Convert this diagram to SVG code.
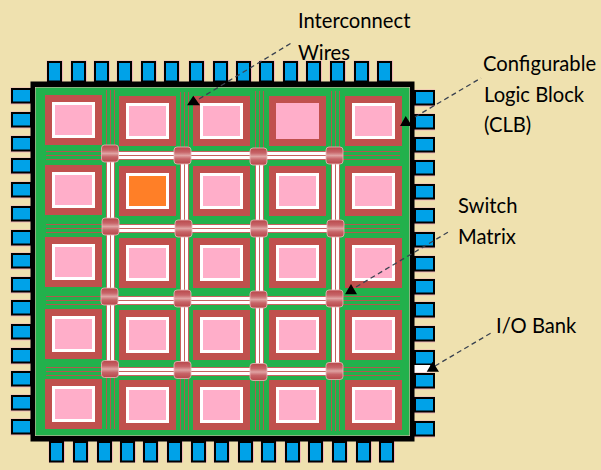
<svg xmlns="http://www.w3.org/2000/svg" xmlns:xlink="http://www.w3.org/1999/xlink" width="601" height="470" viewBox="0 0 601 470">
<style>
.lbl{font-family:"Lato","Liberation Sans",sans-serif;font-size:20.2px;fill:#000}
.wire{fill:none;stroke:#c0504d;stroke-width:.9}
.chan{fill:none;stroke:#fff;stroke-width:9}
.lead{fill:none;stroke:#3a4250;stroke-width:1.3;stroke-dasharray:5 3.5}
.tip{fill:#000}
.blk{fill:#c0504d}.ring{fill:#fff}.core{fill:#ffaec9}.hot{fill:#ff7f27}
</style>
<defs>
<linearGradient id="sw" x1="0" y1="0" x2="0" y2="1">
<stop offset="0" stop-color="#b8474a"/><stop offset=".3" stop-color="#c76468"/><stop offset=".5" stop-color="#e0a3a3"/><stop offset=".7" stop-color="#c76468"/><stop offset="1" stop-color="#b8474a"/>
</linearGradient>
<g id="pv"><rect x="-.5" y="-.5" width="16.500" height="22" fill="#f2b5b5"/><rect x="1" y="1" width="13" height="19.500" fill="#00a2e8" stroke="#000" stroke-width="2"/></g>
<g id="ph"><rect x="-.5" y="-.5" width="21.500" height="17" fill="#f2b5b5"/><rect x="1" y="1" width="19" height="13.500" fill="#00a2e8" stroke="#000" stroke-width="2"/></g>
<g id="clb"><rect class="blk" width="57" height="50"/><rect class="ring" x="7" y="7" width="43" height="36"/><rect class="core" x="10" y="10" width="37" height="30"/></g>
<rect id="swb" x="-8.500" y="-8.500" width="17" height="17" rx="3" fill="url(#sw)" stroke="#e8bcbc" stroke-width=".8"/>
</defs>
<rect width="601" height="470" fill="#efe1af"/>
<g id="io-pads-top">
<use href="#pv" x="47" y="61"/><use href="#pv" x="71" y="61"/><use href="#pv" x="94" y="61"/><use href="#pv" x="117" y="61"/><use href="#pv" x="141" y="61"/><use href="#pv" x="164" y="61"/><use href="#pv" x="189" y="61"/><use href="#pv" x="213" y="61"/><use href="#pv" x="236" y="61"/><use href="#pv" x="259" y="61"/><use href="#pv" x="283" y="61"/><use href="#pv" x="306" y="61"/><use href="#pv" x="330" y="61"/><use href="#pv" x="354" y="61"/><use href="#pv" x="377" y="61"/>
</g>
<g id="io-pads-bottom">
<use href="#pv" x="49" y="441"/><use href="#pv" x="73" y="441"/><use href="#pv" x="97" y="441"/><use href="#pv" x="120" y="441"/><use href="#pv" x="143" y="441"/><use href="#pv" x="167" y="441"/><use href="#pv" x="191" y="441"/><use href="#pv" x="214" y="441"/><use href="#pv" x="238" y="441"/><use href="#pv" x="261" y="441"/><use href="#pv" x="285" y="441"/><use href="#pv" x="308" y="441"/><use href="#pv" x="332" y="441"/><use href="#pv" x="356" y="441"/><use href="#pv" x="379" y="441"/>
</g>
<g id="io-pads-left">
<use href="#ph" x="11" y="88"/><use href="#ph" x="11" y="112"/><use href="#ph" x="11" y="136"/><use href="#ph" x="11" y="158"/><use href="#ph" x="11" y="182"/><use href="#ph" x="11" y="206"/><use href="#ph" x="11" y="230"/><use href="#ph" x="11" y="253"/><use href="#ph" x="11" y="277"/><use href="#ph" x="11" y="300"/><use href="#ph" x="11" y="324"/><use href="#ph" x="11" y="348"/><use href="#ph" x="11" y="371"/><use href="#ph" x="11" y="395"/><use href="#ph" x="11" y="419"/>
</g>
<g id="io-pads-right">
<use href="#ph" x="414" y="90"/><use href="#ph" x="414" y="114"/><use href="#ph" x="414" y="137"/><use href="#ph" x="414" y="160"/><use href="#ph" x="414" y="184"/><use href="#ph" x="414" y="208"/><use href="#ph" x="414" y="232"/><use href="#ph" x="414" y="256"/><use href="#ph" x="414" y="279"/><use href="#ph" x="414" y="302"/><use href="#ph" x="414" y="326"/><use href="#ph" x="414" y="350"/><rect x="414" y="365" width="16" height="8" fill="#fff"/><use href="#ph" x="414" y="373"/><use href="#ph" x="414" y="397"/><use href="#ph" x="414" y="421"/>
</g>
<g id="chip">
<rect x="30.500" y="81.500" width="384" height="360" fill="#000"/>
<rect x="35" y="87" width="375" height="349" fill="#f2b5b5"/>
<rect x="35.500" y="87.500" width="374" height="348" fill="#22b14c"/>
</g>
<g id="clb-blocks">
<use id="clb-1-1" href="#clb" x="45" y="95"/><use id="clb-1-2" href="#clb" x="119" y="96"/><use id="clb-1-3" href="#clb" x="193" y="96"/>
<g id="clb-1-4"><rect class="blk" x="269" y="96" width="57" height="50"/><rect class="core" x="276" y="103" width="43" height="36"/></g>
<use id="clb-1-5" href="#clb" x="345" y="96"/>
<use id="clb-2-1" href="#clb" x="45" y="165"/>
<g id="clb-2-2"><rect class="blk" x="119" y="166" width="57" height="50"/><rect class="ring" x="126" y="173" width="43" height="36"/><rect class="hot" x="129" y="176" width="37" height="30"/></g>
<use id="clb-2-3" href="#clb" x="193" y="166"/><use id="clb-2-4" href="#clb" x="269" y="166"/><use id="clb-2-5" href="#clb" x="345" y="166"/>
<use id="clb-3-1" href="#clb" x="45" y="237"/><use id="clb-3-2" href="#clb" x="119" y="238"/><use id="clb-3-3" href="#clb" x="193" y="238"/><use id="clb-3-4" href="#clb" x="269" y="238"/><use id="clb-3-5" href="#clb" x="345" y="238"/>
<use id="clb-4-1" href="#clb" x="45" y="309"/><use id="clb-4-2" href="#clb" x="119" y="310"/><use id="clb-4-3" href="#clb" x="193" y="310"/><use id="clb-4-4" href="#clb" x="269" y="310"/><use id="clb-4-5" href="#clb" x="345" y="310"/>
<use id="clb-5-1" href="#clb" x="45" y="379"/><use id="clb-5-2" href="#clb" x="119" y="380"/><use id="clb-5-3" href="#clb" x="193" y="380"/><use id="clb-5-4" href="#clb" x="269" y="380"/><use id="clb-5-5" href="#clb" x="345" y="380"/>
</g>
<g id="connectors">
<path class="chan" d="M110.500 155V371M184.500 155V371M259.500 155V371M335.500 155V371M110 155.500H335M110 228.500H335M110 300.500H335M110 371.500H335"/>
<path class="wire" d="M106.500 90V429M110.500 90V429M114.500 90V429M180.500 92V430M184.500 92V430M188.500 92V430M255.500 91V430M259.500 91V430M263.500 91V430M331.500 91V431M335.500 91V431M339.500 91V431"/>
<path class="wire" d="M46 151.500H400M46 155.500H400M46 159.500H400M46 224.500H400M46 228.500H400M46 232.500H400M46 296.500H400M46 300.500H400M46 304.500H400M46 367.500H400M46 371.500H400M46 375.500H400"/>
</g>
<g id="switch-matrices">
<use id="sm-1-1" href="#swb" x="110" y="153.500"/><use id="sm-1-2" href="#swb" x="182.500" y="155.500"/><use id="sm-1-3" href="#swb" x="258.500" y="156.500"/><use id="sm-1-4" href="#swb" x="334.500" y="155.500"/>
<use id="sm-2-1" href="#swb" x="110.500" y="226.500"/><use id="sm-2-2" href="#swb" x="183.500" y="228.500"/><use id="sm-2-3" href="#swb" x="259" y="228.500"/><use id="sm-2-4" href="#swb" x="335.500" y="228.500"/>
<use id="sm-3-1" href="#swb" x="109.500" y="296.500"/><use id="sm-3-2" href="#swb" x="182.500" y="298.500"/><use id="sm-3-3" href="#swb" x="258.500" y="299.500"/><use id="sm-3-4" href="#swb" x="334.500" y="298.500"/>
<use id="sm-4-1" href="#swb" x="110" y="369"/><use id="sm-4-2" href="#swb" x="182.500" y="370"/><use id="sm-4-3" href="#swb" x="258.500" y="372"/><use id="sm-4-4" href="#swb" x="334.500" y="371"/>
</g>
<g id="callouts">
<path class="lead" d="M199 99L293 42M415 117L481 78M356 287L450 231M435 366L491 333"/>
<path class="tip" d="M193.300 95.700L187 105.300H200ZM405.700 116L400 126H412ZM351 284L345 294.300H357ZM432.700 361.700L426.700 371.700H439Z"/>
</g>
<g id="labels">
<text class="lbl" x="298" y="28">Interconnect</text>
<text class="lbl" x="298" y="60">Wires</text>
<text class="lbl" x="483" y="71">Configurable</text>
<text class="lbl" x="484" y="102">Logic Block</text>
<text class="lbl" x="484" y="132">(CLB)</text>
<text class="lbl" x="458" y="213">Switch</text>
<text class="lbl" x="458" y="244">Matrix</text>
<text class="lbl" x="496" y="333">I/O Bank</text>
</g>
</svg>
